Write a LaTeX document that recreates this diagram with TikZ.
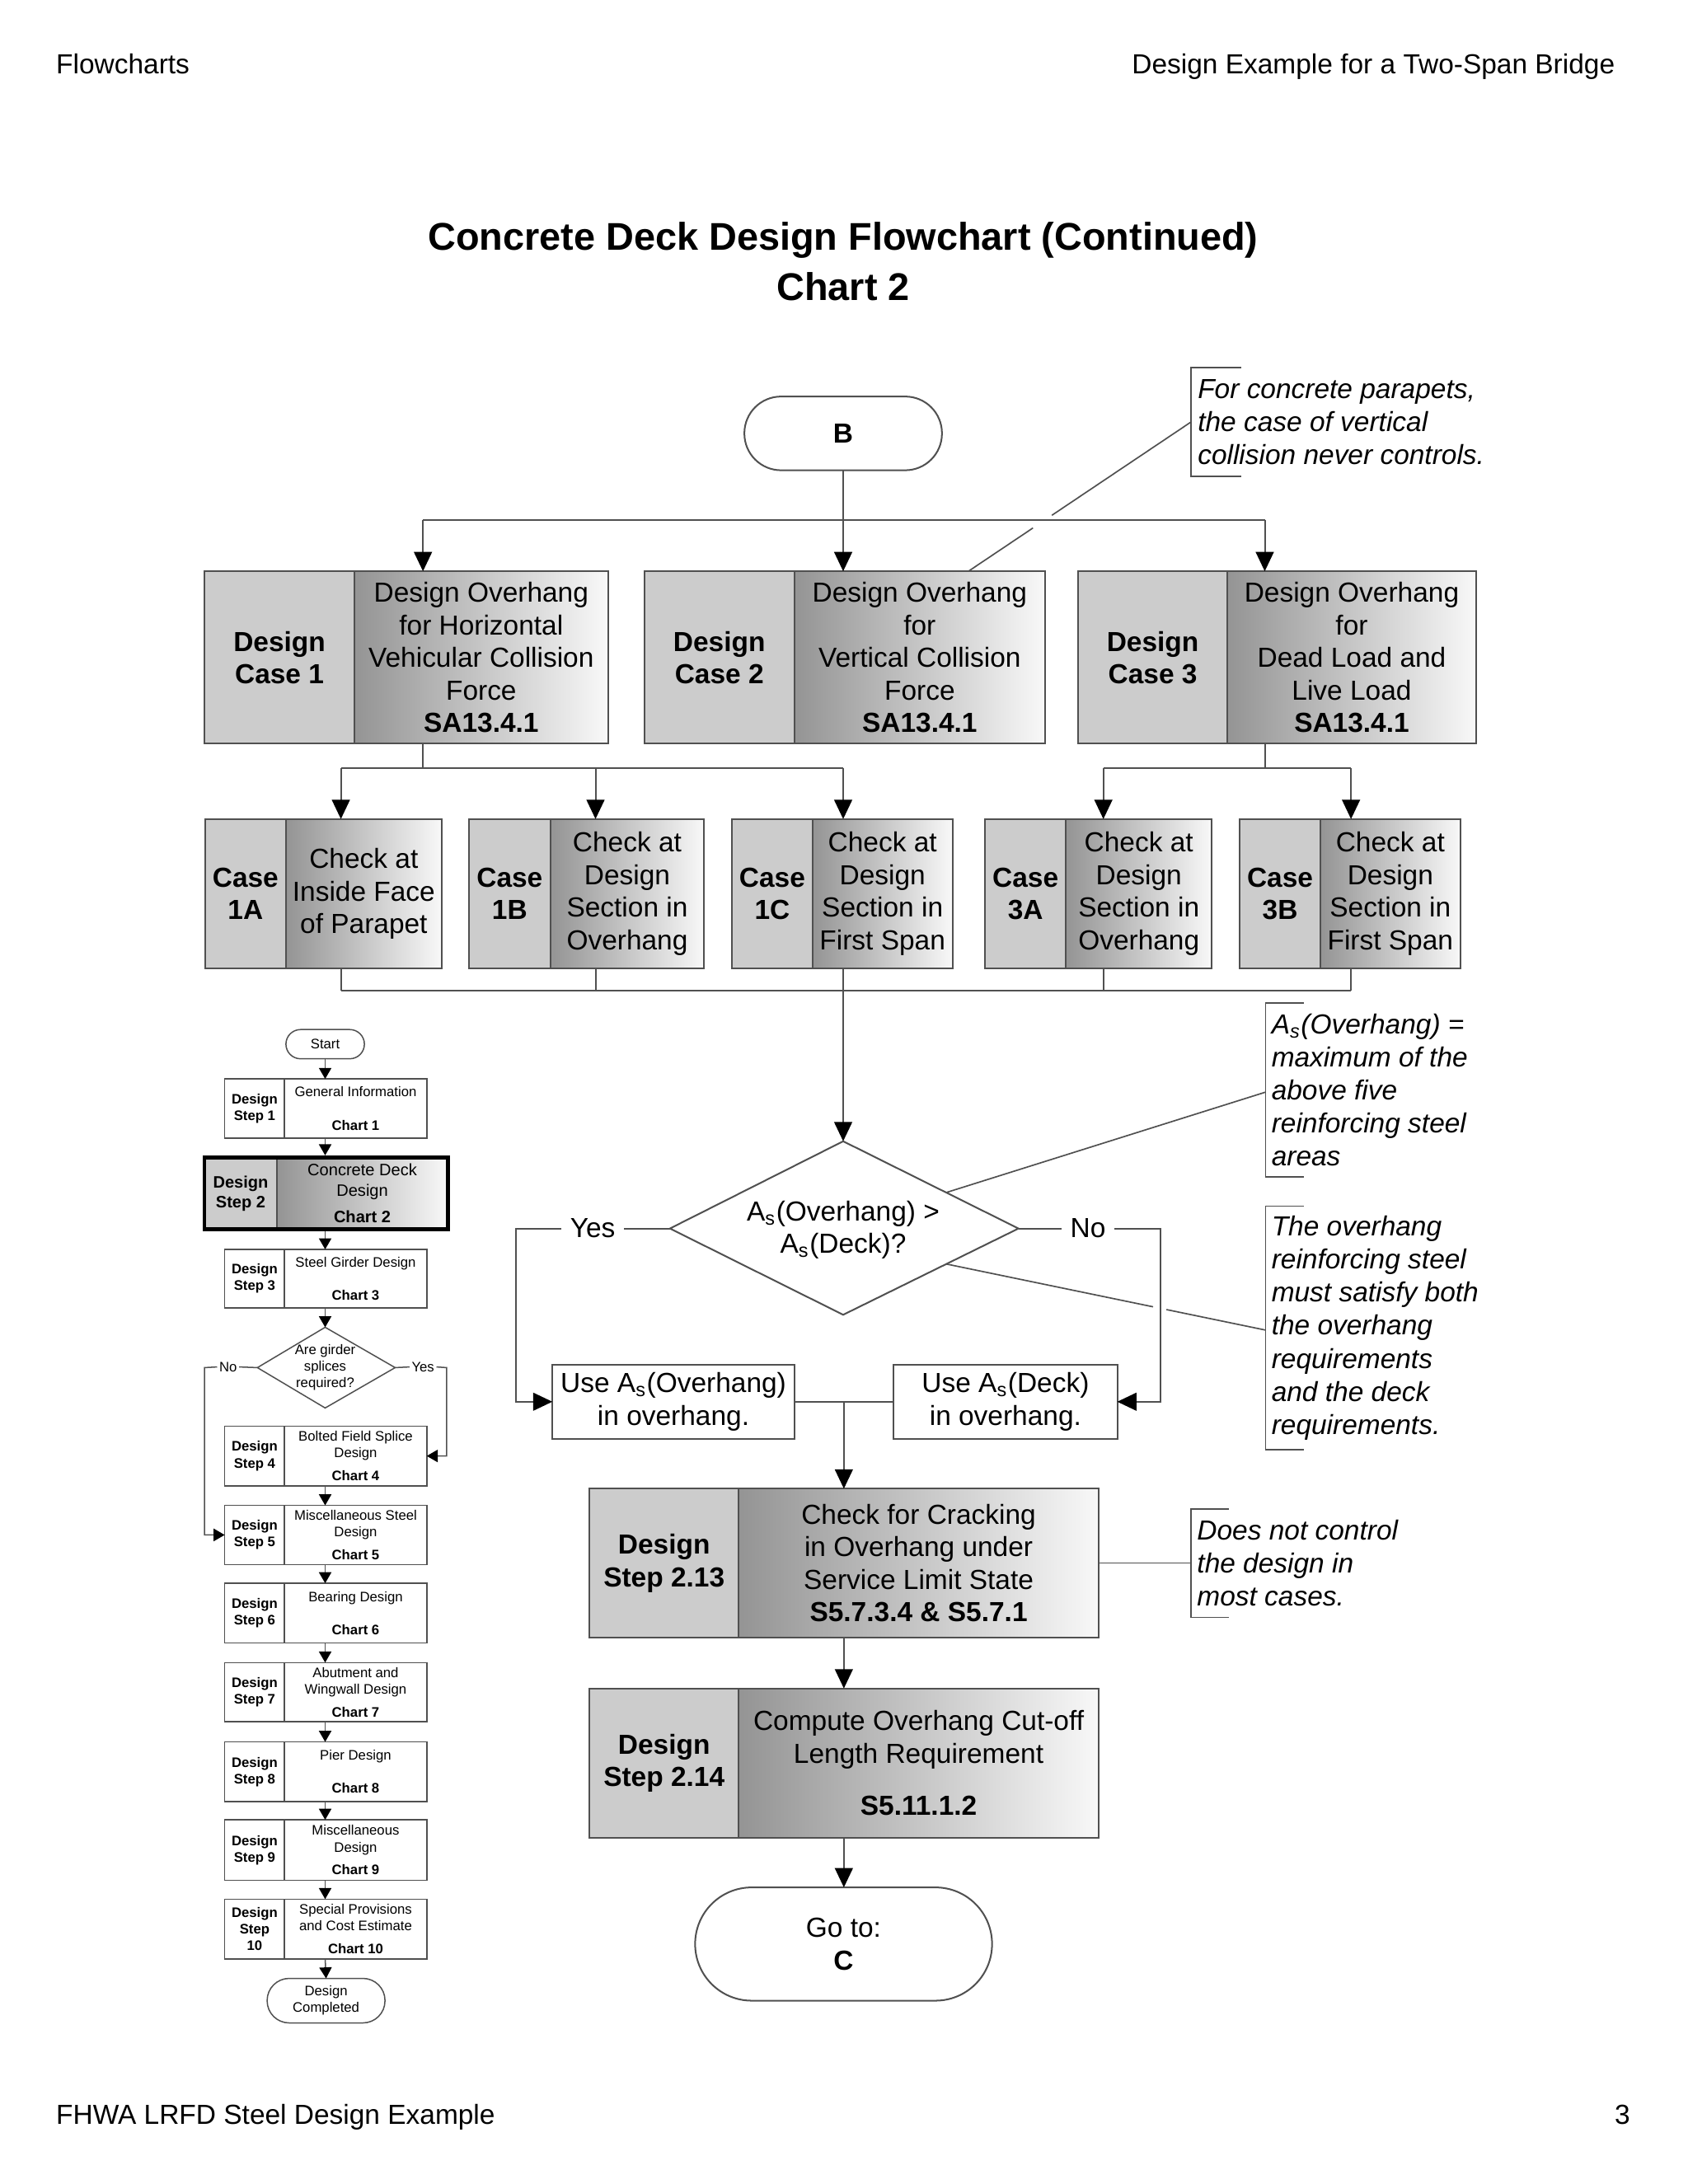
\documentclass[tikz,border=0pt]{standalone}
\usepackage{fontspec}
\setmainfont{Liberation Sans}
\usetikzlibrary{arrows.meta,fit,calc}
\definecolor{pattgray}{RGB}{204,204,204}
\definecolor{gradL}{RGB}{148,148,148}
\definecolor{gradR}{RGB}{248,248,248}
\definecolor{lineg}{RGB}{80,80,80}
\newcommand{\myM}{\fontsize{10}{11.8}\selectfont}
\newcommand{\myMb}{\fontsize{10}{11.8}\selectfont\bfseries}
\newcommand{\myN}{\fontsize{10}{12}\selectfont\itshape}
\newcommand{\myS}{\fontsize{5}{6}\selectfont}
\newcommand{\mySb}{\fontsize{5}{6}\selectfont\bfseries}
\newcommand{\mySS}{\fontsize{6}{7.2}\selectfont}
\newcommand{\mySSb}{\fontsize{6}{7.2}\selectfont\bfseries}
\newcommand{\myT}{\fontsize{14}{18}\selectfont\bfseries}
\newcommand{\myH}{\fontsize{10}{12}\selectfont}
% #1 style, #2 name, #3 x1, #4 y1, #5 x2, #6 y2, #7 text
\newcommand{\mkbox}[7]{%
  \pgfmathsetmacro\bxc{(#3+#5)/2}%
  \pgfmathsetmacro\byc{(#4+#6)/2}%
  \pgfmathsetmacro\bxw{(#5-#3)*0.50453}%
  \pgfmathsetmacro\bxh{(#6-#4)*0.50453}%
  \node[#1, minimum width=\bxw pt, minimum height=\bxh pt] (#2) at (\bxc,\byc) {#7};}
\tikzset{
  ln/.style={draw=lineg, line width=0.6pt},
  arr/.style={ln, -{Triangle[length=7pt,width=6.5pt,color=black]}},
  sln/.style={draw=lineg, line width=0.45pt},
  sarr/.style={sln, -{Triangle[length=4pt,width=4.5pt,color=black]}},
  bx/.style={draw=lineg, line width=0.6pt, inner sep=0pt, outer sep=0pt, align=center},
  pat/.style={bx, fill=pattgray},
  grd/.style={bx, left color=gradL, right color=gradR},
  wht/.style={bx, fill=white},
  sbx/.style={draw=lineg, line width=0.45pt, inner sep=0pt, outer sep=0pt, align=center, fill=white, font=\myS},
  sbxl/.style={sbx, font=\mySb},
  lbl/.style={fill=white, inner ysep=1pt, inner xsep=3pt},
  note/.style={anchor=west, align=left, font=\myN, inner sep=0pt},
}
\begin{document}
\begin{tikzpicture}[x=0.50453pt,y=-0.50453pt]
\fill[white] (0,0) rectangle (1213,1569.8);
\useasboundingbox (0,0) rectangle (1213,1569.8);

% header / footer / title
\node[font=\myH, anchor=base west, inner sep=0pt] (hdl) at (40,53) {Flowcharts};
\node[font=\myH, anchor=base east, inner sep=0pt] (hdr) at (1161,53) {Design Example for a Two-Span Bridge};
\node[font=\myH, anchor=base west, inner sep=0pt] (ftl) at (40,1527) {FHWA LRFD Steel Design Example};
\node[font=\myH, anchor=base east, inner sep=0pt] (ftr) at (1172,1527) {3};
\node[font=\myT, anchor=base, inner sep=0pt] (t1) at (606,180) {Concrete Deck Design Flowchart (Continued)};
\node[font=\myT, anchor=base, inner sep=0pt] (t2) at (606,216) {Chart 2};

% start B
\mkbox{wht, rounded corners=13.3pt, font=\myMb}{B}{535}{285}{677}{338}{B}

% design cases
\mkbox{pat, font=\myMb}{c1L}{147}{410.6}{254.7}{534.6}{Design\\Case 1}
\mkbox{grd, font=\myM}{c1R}{254.7}{410.6}{437}{534.6}{Design Overhang\\for Horizontal\\Vehicular Collision\\Force\\\textbf{SA13.4.1}}
\mkbox{pat, font=\myMb}{c2L}{463}{410.6}{571}{534.6}{Design\\Case 2}
\mkbox{grd, font=\myM}{c2R}{571}{410.6}{751}{534.6}{Design Overhang\\for\\Vertical Collision\\Force\\\textbf{SA13.4.1}}
\mkbox{pat, font=\myMb}{c3L}{775}{410.6}{882}{534.6}{Design\\Case 3}
\mkbox{grd, font=\myM}{c3R}{882}{410.6}{1061}{534.6}{Design Overhang\\for\\Dead Load and\\Live Load\\\textbf{SA13.4.1}}

% sub cases
\mkbox{pat, font=\myMb}{k1AL}{147.3}{588.7}{205.6}{696}{Case\\1A}
\mkbox{grd, font=\myM}{k1AR}{205.6}{588.7}{317.3}{696}{Check at\\Inside Face\\of Parapet}
\mkbox{pat, font=\myMb}{k1BL}{337}{588.7}{395.6}{696}{Case\\1B}
\mkbox{grd, font=\myM}{k1BR}{395.6}{588.7}{506}{696}{Check at\\Design\\Section in\\Overhang}
\mkbox{pat, font=\myMb}{k1CL}{526}{588.7}{584}{696}{Case\\1C}
\mkbox{grd, font=\myM}{k1CR}{584}{588.7}{684.5}{696}{Check at\\Design\\Section in\\First Span}
\mkbox{pat, font=\myMb}{k3AL}{708}{588.7}{766}{696}{Case\\3A}
\mkbox{grd, font=\myM}{k3AR}{766}{588.7}{871}{696}{Check at\\Design\\Section in\\Overhang}
\mkbox{pat, font=\myMb}{k3BL}{891}{588.7}{949}{696}{Case\\3B}
\mkbox{grd, font=\myM}{k3BR}{949}{588.7}{1049.5}{696}{Check at\\Design\\Section in\\First Span}

% top bus
\coordinate (tA) at (304,374);
\coordinate (tB) at (606,374);
\coordinate (tC) at (909,374);
\draw[ln] (B) -- (tB);
\draw[ln] (tA) -- (tC);
\draw[arr] (tA) -- (tA |- c1R.north);
\draw[arr] (tB) -- (tB |- c2R.north);
\draw[arr] (tC) -- (tC |- c3R.north);

% middle buses
\coordinate (m1) at (304,552);
\coordinate (mA) at (245,552);
\coordinate (mB) at (428,552);
\coordinate (mC) at (606,552);
\coordinate (m3) at (909,552);
\coordinate (mD) at (793,552);
\coordinate (mE) at (971,552);
\draw[ln] (c1R.south -| m1) -- (m1);
\draw[ln] (mA) -- (mC);
\draw[arr] (mA) -- (mA |- k1AR.north);
\draw[arr] (mB) -- (mB |- k1BR.north);
\draw[arr] (mC) -- (mC |- k1CR.north);
\draw[ln] (c3R.south -| m3) -- (m3);
\draw[ln] (mD) -- (mE);
\draw[arr] (mD) -- (mD |- k3AR.north);
\draw[arr] (mE) -- (mE |- k3BR.north);

% bottom bus
\coordinate (bA) at (245,712);
\coordinate (bB) at (428,712);
\coordinate (bC) at (606,712);
\coordinate (bD) at (793,712);
\coordinate (bE) at (971,712);
\draw[ln] (k1AR.south -| bA) -- (bA);
\draw[ln] (k1BR.south -| bB) -- (bB);
\draw[ln] (k1CR.south -| bC) -- (bC);
\draw[ln] (k3AR.south -| bD) -- (bD);
\draw[ln] (k3BR.south -| bE) -- (bE);
\draw[ln] (bA) -- (bE);

% decision
\coordinate (dT) at (606,820.3);
\coordinate (dR) at (732,883);
\coordinate (dB) at (606,945);
\coordinate (dL) at (481.5,883);
\draw[ln] (dT) -- (dR) -- (dB) -- (dL) -- cycle;
\node[font=\myM, align=center, inner sep=0pt] (dq) at (606,884) {A\textsubscript{s}(Overhang) >\\A\textsubscript{s}(Deck)?};
\draw[arr] (bC) -- (dT);

\mkbox{wht, font=\myM}{uO}{397}{981}{571}{1034}{Use A\textsubscript{s}(Overhang)\\in overhang.}
\mkbox{wht, font=\myM}{uD}{642.3}{981}{803}{1034}{Use A\textsubscript{s}(Deck)\\in overhang.}

\node[lbl, font=\myM] (yesL) at (426,883) {Yes};
\node[lbl, font=\myM] (noL) at (782,883) {No};
\coordinate (yesC) at (371,883);
\coordinate (noC) at (834,883);
\draw[ln] (dL) -- (yesL.east);
\draw[arr] (yesL.west) -- (yesC) |- (uO.west);
\draw[ln] (dR) -- (noL.west);
\draw[arr] (noL.east) -- (noC) |- (uD.east);

\coordinate (mrg) at (606.5,1007.5);
\draw[ln] (uO.east) -- (uD.west);

% steps 2.13, 2.14
\mkbox{pat, font=\myMb}{s13L}{423.8}{1070}{530.8}{1177}{Design\\Step 2.13}
\mkbox{grd, font=\myM}{s13R}{530.8}{1070}{789.7}{1177}{Check for Cracking\\in Overhang under\\Service Limit State\\\textbf{S5.7.3.4 \& S5.7.1}}
\mkbox{pat, font=\myMb}{s14L}{423.8}{1213.6}{530.8}{1321}{Design\\Step 2.14}
\mkbox{grd, font=\myM}{s14R}{530.8}{1213.6}{789.7}{1321}{Compute Overhang Cut-off\\Length Requirement\\[7.2pt]\textbf{S5.11.1.2}}
\mkbox{wht, rounded corners=20.5pt, font=\myM}{goC}{499.6}{1356.6}{713}{1438}{Go to:\\\textbf{C}}

\draw[arr] (mrg) -- (mrg |- s13R.north);
\draw[arr] (s13R.south -| mrg) -- (mrg |- s14R.north);
\draw[arr] (s14R.south -| mrg) -- (mrg |- goC.north);

% notes
\coordinate (n1a) at (856,303.3);
\coordinate (n1b) at (696,410.6);
\draw[ln, line width=0.5pt] (892,264) -- (856,264) -- (856,342.5) -- (892,342.5);
\node[note] (n1) at (860.5,303.5) {For concrete parapets,\\the case of vertical\\collision never controls.};
\draw[ln, line width=0.5pt] (n1a) -- ($(n1a)!0.625!(n1b)$);
\draw[ln, line width=0.5pt] ($(n1a)!0.71!(n1b)$) -- (n1b);

\coordinate (n2a) at (909.5,785);
\coordinate (n2b) at (680.5,857);
\draw[ln, line width=0.5pt] (937,721) -- (909.5,721) -- (909.5,846) -- (937,846);
\node[note] (n2) at (913.5,783.5) {A\textsubscript{s}(Overhang) =\\maximum of the\\above five\\reinforcing steel\\areas};
\draw[ln, line width=0.5pt] (n2a) -- (n2b);

\coordinate (n3a) at (909.5,956);
\coordinate (n3b) at (680,908.5);
\draw[ln, line width=0.5pt] (937,867) -- (909.5,867) -- (909.5,1042) -- (937,1042);
\node[note] (n3) at (913.5,954.5) {The overhang\\reinforcing steel\\must satisfy both\\the overhang\\requirements\\and the deck\\requirements.};
\draw[ln, line width=0.5pt] (n3a) -- ($(n3a)!0.31!(n3b)$);
\draw[ln, line width=0.5pt] ($(n3a)!0.352!(n3b)$) -- (n3b);

\coordinate (n4a) at (856,1123.5);
\draw[ln, line width=0.5pt] (883,1084.6) -- (856,1084.6) -- (856,1162.6) -- (883,1162.6);
\node[note] (n4) at (860,1123.5) {Does not control\\the design in\\most cases.};
\draw[ln, line width=0.5pt] (s13R.east) -- (n4a);

% ---------- mini flowchart ----------
\coordinate (mx) at (233.7,740);
\mkbox{sbx, rounded corners=5.3pt}{start}{205.5}{740}{261.9}{761}{Start}

\mkbox{sbxl}{s1L}{161.5}{775.5}{204.5}{818}{Design\\Step 1}
\mkbox{sbx}{s1R}{204.5}{775.5}{306.7}{818}{General Information\\[6pt]\textbf{Chart 1}}

\mkbox{pat, line width=0.45pt, font=\mySSb}{s2L}{147}{831.8}{199}{883.6}{Design\\Step 2}
\mkbox{grd, line width=0.45pt, font=\mySS}{s2R}{199}{831.8}{321.8}{883.6}{Concrete Deck\\Design\\[2.4pt]\textbf{Chart 2}}
\node[draw=black, line width=1.4pt, inner sep=0pt, fit=(s2L)(s2R)] (s2box) {};

\mkbox{sbxl}{s3L}{161.5}{898}{204.5}{940}{Design\\Step 3}
\mkbox{sbx}{s3R}{204.5}{898}{306.7}{940}{Steel Girder Design\\[6pt]\textbf{Chart 3}}

\coordinate (mdT) at (233.7,954);
\coordinate (mdR) at (284,983);
\coordinate (mdB) at (233.7,1012);
\coordinate (mdL) at (185,983);
\draw[sln] (mdT) -- (mdR) -- (mdB) -- (mdL) -- cycle;
\node[font=\myS, align=center, inner sep=0pt] (mdq) at (233.7,983) {Are girder\\splices\\required?};

\mkbox{sbxl}{s4L}{161.5}{1025}{204.5}{1068}{Design\\Step 4}
\mkbox{sbx}{s4R}{204.5}{1025}{306.7}{1068}{Bolted Field Splice\\Design\\[2.3pt]\textbf{Chart 4}}
\mkbox{sbxl}{s5L}{161.5}{1082}{204.5}{1124.5}{Design\\Step 5}
\mkbox{sbx}{s5R}{204.5}{1082}{306.7}{1124.5}{Miscellaneous Steel\\Design\\[2.3pt]\textbf{Chart 5}}
\mkbox{sbxl}{s6L}{161.5}{1138}{204.5}{1181}{Design\\Step 6}
\mkbox{sbx}{s6R}{204.5}{1138}{306.7}{1181}{Bearing Design\\[6pt]\textbf{Chart 6}}
\mkbox{sbxl}{s7L}{161.5}{1195}{204.5}{1237.5}{Design\\Step 7}
\mkbox{sbx}{s7R}{204.5}{1195}{306.7}{1237.5}{Abutment and\\Wingwall Design\\[2.3pt]\textbf{Chart 7}}
\mkbox{sbxl}{s8L}{161.5}{1252}{204.5}{1295}{Design\\Step 8}
\mkbox{sbx}{s8R}{204.5}{1252}{306.7}{1295}{Pier Design\\[6pt]\textbf{Chart 8}}
\mkbox{sbxl}{s9L}{161.5}{1308}{204.5}{1351.6}{Design\\Step 9}
\mkbox{sbx}{s9R}{204.5}{1308}{306.7}{1351.6}{Miscellaneous\\Design\\[2.3pt]\textbf{Chart 9}}
\mkbox{sbxl}{s10L}{161.5}{1365}{204.5}{1408}{Design\\Step\\10}
\mkbox{sbx}{s10R}{204.5}{1365}{306.7}{1408}{Special Provisions\\and Cost Estimate\\[2.3pt]\textbf{Chart 10}}
\mkbox{sbx, rounded corners=8pt}{done}{192}{1422}{276.7}{1454}{Design\\Completed}

\draw[sarr] (start.south) -- (mx |- s1R.north);
\draw[sarr] (s1R.south -| mx) -- (mx |- s2box.north);
\draw[sarr] (s2box.south -| mx) -- (mx |- s3R.north);
\draw[sarr] (s3R.south -| mx) -- (mdT);
\draw[sarr] (s4R.south -| mx) -- (mx |- s5R.north);
\draw[sarr] (s5R.south -| mx) -- (mx |- s6R.north);
\draw[sarr] (s6R.south -| mx) -- (mx |- s7R.north);
\draw[sarr] (s7R.south -| mx) -- (mx |- s8R.north);
\draw[sarr] (s8R.south -| mx) -- (mx |- s9R.north);
\draw[sarr] (s9R.south -| mx) -- (mx |- s10R.north);
\draw[sarr] (s10R.south -| mx) -- (done.north);

\node[font=\myS, fill=white, inner xsep=0.6pt, inner ysep=0.5pt] (myes) at (304,982.5) {Yes};
\node[font=\myS, fill=white, inner xsep=0.6pt, inner ysep=0.5pt] (mno) at (164,982.5) {No};
\coordinate (myC) at (321,983);
\coordinate (mnC) at (147,983);
\draw[sln] (mdR) -- (myes.west);
\draw[sarr] (myes.east) -- (myC) |- (s4R.east);
\draw[sln] (mdL) -- (mno.east);
\draw[sarr] (mno.west) -- (mnC) |- (s5L.west);
\end{tikzpicture}
\end{document}
